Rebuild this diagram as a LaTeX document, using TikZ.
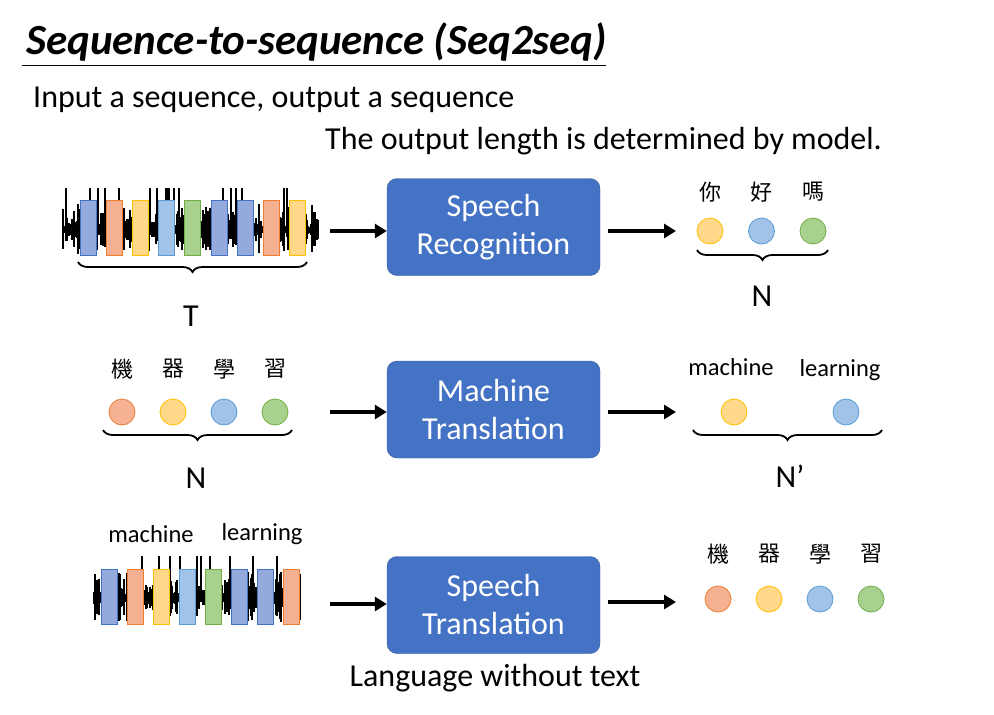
\documentclass[tikz,border=0pt]{standalone}
\usepackage{fontspec}
\setmainfont{Carlito}
\newfontfamily\cjk{Noto Sans CJK TC}
\usetikzlibrary{arrows.meta,decorations.pathreplacing}
\definecolor{bB}{HTML}{4472C4}\definecolor{fB}{HTML}{94A9DC}
\definecolor{bO}{HTML}{ED7D31}\definecolor{fO}{HTML}{F6B193}
\definecolor{bY}{HTML}{FFC000}\definecolor{fY}{HTML}{FFD88A}
\definecolor{bL}{HTML}{5B9BD5}\definecolor{fL}{HTML}{A2C3E8}
\definecolor{bG}{HTML}{70AD47}\definecolor{fG}{HTML}{A9D18E}
\tikzset{
 box/.style={rounded corners=10pt,fill=bB,draw=bB!80!black,minimum width=213pt,minimum height=97pt,text=white,font=\fontsize{32}{38}\selectfont,align=center},
 arr/.style={line width=3.5pt,-{Triangle[length=12pt,width=14pt]}},
 dot/.style={circle,minimum size=26pt,inner sep=0pt,line width=0.8pt},
 rect/.style={minimum width=16pt,minimum height=55pt,inner sep=0pt,line width=1pt},
 B/.style={fill=fB,draw=bB},O/.style={fill=fO,draw=bO},Y/.style={fill=fY,draw=bY},
 L/.style={fill=fL,draw=bL},G/.style={fill=fG,draw=bG},
 brc/.style={decorate,decoration={brace,mirror,amplitude=10pt},line width=1.8pt},
 lab/.style={font=\fontsize{32}{36}\selectfont},
 small/.style={font=\fontsize{24.5}{28}\selectfont},
 zh/.style={font=\cjk\fontsize{22}{26}\selectfont},
}
\newcommand\mywave[3]{%
 \foreach \i in {#1,...,#2}{%
  \pgfmathsetmacro\h{3+24*rnd^2}%
  \pgfmathsetmacro\s{rnd>0.95?42:\h}%
  \draw[line width=1.1pt] (\i,#3-\s) -- (\i,#3+\h*0.9);}}
\begin{document}
\begin{tikzpicture}[x=1pt,y=-1pt]
\useasboundingbox (0,0) rectangle (994,715);
\pgfmathsetseed{7}
\node[anchor=base west,font=\bfseries\itshape\fontsize{43}{48}\selectfont,inner sep=0] (title) at (26,54) {Sequence-to-sequence (Seq2seq)};
\draw[line width=1pt] (22,65) -- (606,65);
\node[anchor=base west,font=\fontsize{32}{36}\selectfont,inner sep=0] (t1) at (33,107) {Input a sequence, output a sequence};
\node[anchor=base west,font=\fontsize{32}{36}\selectfont,inner sep=0] (t2) at (325,149) {The output length is determined by model.};
% row 1
\mywave{63}{318}{230}
\foreach \c [count=\k] in {B,O,Y,L,G,B,B,O,Y}{\node[rect,\c] (r1\k) at (88+26.2*\k-26.2,228) {};}
\draw[brc] (78,262) -- (307,262);
\node[lab] (T) at (191,316) {T};
\node[box] (sr) at (493.5,227) {Speech\\Recognition};
\coordinate (a1) at (330,231); \coordinate (b1) at (676,231); \coordinate (c1) at (608,231);
\draw[arr] (a1) -- (sr.west|-a1);
\draw[arr] (c1) -- (b1);
\foreach \c/\z [count=\k] in {Y/你,L/好,G/嗎}{\node[dot,\c] (o1\k) at (710+51.5*\k-51.5,231) {};\node[zh] (z1\k) at (710+51.5*\k-51.5,192) {\z};}
\draw[brc] (697,250) -- (828,250);
\node[lab] (N1) at (762,296) {N};
% row 2
\foreach \c/\z [count=\k] in {O/機,Y/器,L/學,G/習}{\node[dot,\c] (i2\k) at (122+51*\k-51,412) {};\node[zh] (y2\k) at (122+51*\k-51,369) {\z};}
\draw[brc] (103,430) -- (292,430);
\node[lab] (N2) at (196,478) {N};
\node[box] (mt) at (493.5,409.5) {Machine\\Translation};
\coordinate (a2) at (330,412); \coordinate (b2) at (676,412); \coordinate (c2) at (608,412);
\draw[arr] (a2) -- (mt.west|-a2);
\draw[arr] (c2) -- (b2);
\node[dot,Y] (o21) at (734,412) {};
\node[dot,L] (o22) at (846,412) {};
\node[small] (m2) at (731,367) {machine};
\node[small] (l2) at (840,370) {learning};
\draw[brc] (693,430) -- (882,430);
\node[lab] (N3) at (790,476) {N’};
% row 3
\mywave{94}{300}{598}
\foreach \c [count=\k] in {B,O,Y,L,G,B,B,O}{\node[rect,\c] (r3\k) at (109+26.1*\k-26.1,597) {};}
\node[small] (m3) at (151,534) {machine};
\node[small] (l3) at (262,534) {learning};
\node[box] (st) at (493.5,605) {Speech\\Translation};
\coordinate (a3) at (330,604); \coordinate (b3) at (676,602); \coordinate (c3) at (608,602);
\draw[arr] (a3) -- (st.west|-a3);
\draw[arr] (c3) -- (b3);
\foreach \c/\z [count=\k] in {O/機,Y/器,L/學,G/習}{\node[dot,\c] (o3\k) at (718+51*\k-51,599) {};\node[zh] (z3\k) at (718+51*\k-51,554) {\z};}
\node[lab] (lw) at (495,678) {Language without text};
\end{tikzpicture}
\end{document}
